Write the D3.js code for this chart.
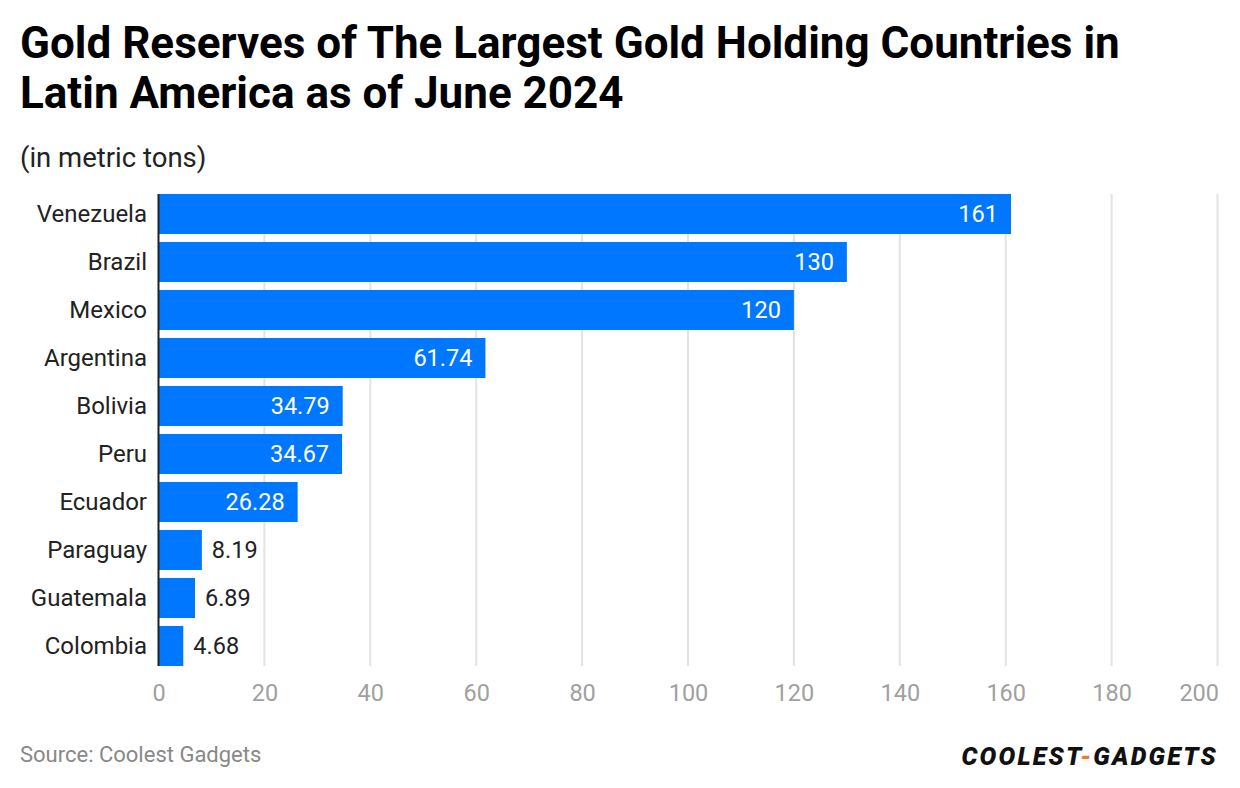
<!DOCTYPE html>
<html><head><meta charset="utf-8">
<script src="https://cdn.jsdelivr.net/npm/d3@7"></script>
<style>
html,body{margin:0;padding:0;background:#fff;}
svg text{font-family:Roboto,"Noto Sans",sans-serif;}
</style></head>
<body>
<svg id="chart" width="1240" height="788"></svg>
<script>
const categories = ["Venezuela","Brazil","Mexico","Argentina","Bolivia","Peru","Ecuador","Paraguay","Guatemala","Colombia"];
const values = [161,130,120,61.74,34.79,34.67,26.28,8.19,6.89,4.68];
const valueLabels = ["161","130","120","61.74","34.79","34.67","26.28","8.19","6.89","4.68"];
const tickValues = [0,20,40,60,80,100,120,140,160,180,200];
const titleLines = ["Gold Reserves of The Largest Gold Holding Countries in","Latin America as of June 2024"];
const subtitle = "(in metric tons)";
const source = "Source: Coolest Gadgets";

const svg = d3.select("#chart");
const x = d3.scaleLinear().domain([0,200]).range([158.5,1217.5]);
const y = d3.scaleBand().domain(categories).range([190,670]).paddingInner(1/6).paddingOuter(1/12);
const plotTop = 194, plotBottom = 666;

// title
svg.append("text").attr("x",20).attr("y",58).attr("font-size",44).attr("font-weight",700).attr("fill","#000")
  .selectAll("tspan").data(titleLines).join("tspan").attr("x",20).attr("dy",(d,i)=>i?50:0).text(d=>d);
svg.append("text").attr("x",20).attr("y",167).attr("font-size",27.5).attr("fill","#222").text(subtitle);

// gridlines
svg.append("g").selectAll("line").data(tickValues.filter(d=>d>0)).join("line")
  .attr("x1",d=>x(d)).attr("x2",d=>x(d)).attr("y1",plotTop).attr("y2",plotBottom)
  .attr("stroke","#e3e3e3").attr("stroke-width",2);

// x axis
const xAxis = svg.append("g").attr("transform",`translate(0,${plotBottom})`)
  .call(d3.axisBottom(x).tickValues(tickValues).tickSize(0).tickPadding(18));
xAxis.select(".domain").remove();
xAxis.selectAll("text").attr("font-size",23.5).attr("fill","#a0a0a0").attr("font-family","Roboto,sans-serif");
xAxis.selectAll(".tick").filter(d=>d===200).select("text").attr("text-anchor","end").attr("x",1);

// bars
svg.append("g").selectAll("rect").data(values).join("rect")
  .attr("x",x(0)).attr("y",(d,i)=>y(categories[i])).attr("width",d=>x(d)-x(0)).attr("height",y.bandwidth())
  .attr("fill","#0077ff");

// y axis
const yAxis = svg.append("g").attr("transform",`translate(${x(0)},0)`)
  .call(d3.axisLeft(y).tickSize(0).tickPadding(11.5));
yAxis.select(".domain").remove();
yAxis.selectAll("text").attr("font-size",24).attr("fill","#222").attr("font-family","Roboto,sans-serif");
svg.append("line").attr("x1",x(0)).attr("x2",x(0)).attr("y1",plotTop).attr("y2",plotBottom)
  .attr("stroke","#222").attr("stroke-width",2);

// value labels
const lbl = svg.append("g").selectAll("text").data(values).join("text")
  .attr("y",(d,i)=>y(categories[i])+y.bandwidth()/2).attr("dy","0.35em")
  .attr("font-size",23.5).text((d,i)=>valueLabels[i]);
lbl.each(function(d){
  const w = this.getComputedTextLength();
  const bw = x(d)-x(0);
  const s = d3.select(this);
  if (bw > w + 24) s.attr("x",x(d)-13).attr("text-anchor","end").attr("fill","#fff");
  else s.attr("x",x(d)+10).attr("text-anchor","start").attr("fill","#222");
});

// source
svg.append("text").attr("x",20).attr("y",762).attr("font-size",22).attr("fill","#888").text(source);

// logo
const logo = svg.append("text").attr("x",1218).attr("y",765).attr("text-anchor","end")
  .attr("font-size",25).attr("font-weight",900).attr("font-style","italic").attr("letter-spacing",2.2)
  .attr("font-family","'DejaVu Sans',sans-serif").attr("fill","#111");
logo.append("tspan").text("COOLEST");
logo.append("tspan").attr("fill","#f07a2a").text("-");
logo.append("tspan").text("GADGETS");
</script>
</body></html>
